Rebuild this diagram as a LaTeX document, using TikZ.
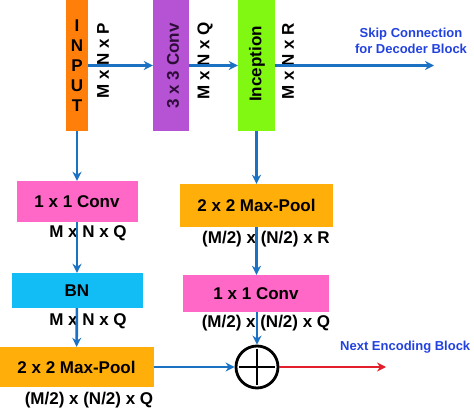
\documentclass[tikz,border=0pt]{standalone}
\usepackage{fontspec}
\setmainfont{Liberation Sans}
\usetikzlibrary{arrows.meta}

\definecolor{inorange}{HTML}{FF7F0A}
\definecolor{convpurple}{HTML}{B553D4}
\definecolor{convtext}{HTML}{2E0E38}
\definecolor{incgreen}{HTML}{80F812}
\definecolor{onepink}{HTML}{FF68C6}
\definecolor{bncyan}{HTML}{12BDF5}
\definecolor{poolorange}{HTML}{FFAE0A}
\definecolor{flowblue}{HTML}{1C72C2}
\definecolor{notered}{HTML}{E21F2B}
\definecolor{noteblue}{HTML}{2242E0}

\tikzset{
  blk/.style={inner sep=0pt, font=\bfseries\fontsize{17}{20}\selectfont},
  dim/.style={inner sep=0pt, font=\bfseries\fontsize{17}{20}\selectfont},
  note/.style={inner sep=0pt, text=noteblue, align=center,
               font=\bfseries\fontsize{13}{16}\selectfont},
  flow/.style={draw=flowblue, line width=2.6pt, -{Stealth[length=9pt,width=9pt]}},
}

\begin{document}
\begin{tikzpicture}[x=1pt,y=-1pt]
\useasboundingbox (0,0) rectangle (474,409);

% top row
\node[blk, fill=inorange, minimum width=22, minimum height=131, align=center]
  (input) at (77,65.5) {I\\N\\P\\U\\T};
\node[blk, fill=convpurple, minimum width=36, minimum height=131]
  (conv3) at (171,65.5) {};
\node[blk, rotate=90, text=convtext] (conv3txt) at (173,66) {3 x 3 Conv};
\node[blk, fill=incgreen, minimum width=37, minimum height=131]
  (incep) at (256.5,65.5) {};
\node[blk, rotate=90] (inceptxt) at (257,64) {Inception};

\node[dim, rotate=90] (dimP) at (103,61) {M x N x P};
\node[dim, rotate=90] (dimQ) at (205,61) {M x N x Q};
\node[dim, rotate=90] (dimR) at (288,61) {M x N x R};

\coordinate (skip) at (434,65.5);
\node[note] (skiptxt) at (411,41) {Skip Connection\\for Decoder Block};

% left column
\node[blk, fill=onepink, minimum width=121, minimum height=41] (conv1a) at (77,201.5) {1 x 1 Conv};
\node[dim] (dimQa) at (88,233) {M x N x Q};
\node[blk, fill=bncyan, minimum width=131, minimum height=35] (bn) at (77,290.5) {BN};
\node[dim] (dimQb) at (88,321) {M x N x Q};
\node[blk, fill=poolorange, minimum width=154, minimum height=40] (poolA) at (76.5,367) {2 x 2 Max-Pool};
\node[dim] (dimQc) at (89,400) {(M/2) x (N/2) x Q};

% right column
\node[blk, fill=poolorange, minimum width=153, minimum height=43] (poolB) at (256.5,205.5) {2 x 2 Max-Pool};
\node[dim] (dimRb) at (266,239) {(M/2) x (N/2) x R};
\node[blk, fill=onepink, minimum width=146, minimum height=37] (conv1b) at (256,293.5) {1 x 1 Conv};
\node[dim] (dimQd) at (266,323) {(M/2) x (N/2) x Q};

% sum
\node[circle, draw, line width=2.8pt, minimum size=42, inner sep=0pt] (sum) at (257,367) {};
\draw[line width=2.8pt] ([yshift=-4pt]sum.north) -- ([yshift=4pt]sum.south)
                        ([xshift=4pt]sum.west) -- ([xshift=-4pt]sum.east);

\coordinate (next) at (386,367);
\node[note, anchor=west] (nexttxt) at (340,347) {Next Encoding Block};

% connectors
\draw[flow] (input) -- (conv3);
\draw[flow] (conv3) -- (incep);
\draw[flow] (incep) -- (skip);
\draw[flow] (input) -- (conv1a);
\draw[flow] (conv1a) -- (bn);
\draw[flow] (bn) -- (poolA);
\draw[flow] (incep.south) -- (poolB.north);
\draw[flow] (poolB.south) -- (conv1b.north -| poolB.south);
\draw[flow] (conv1b.south -| sum) -- (sum.north);
\draw[flow] (poolA) -- (sum);
\draw[draw=notered, line width=2.6pt, -{Stealth[length=9pt,width=9pt]}] (sum) -- (next);
\end{tikzpicture}
\end{document}
